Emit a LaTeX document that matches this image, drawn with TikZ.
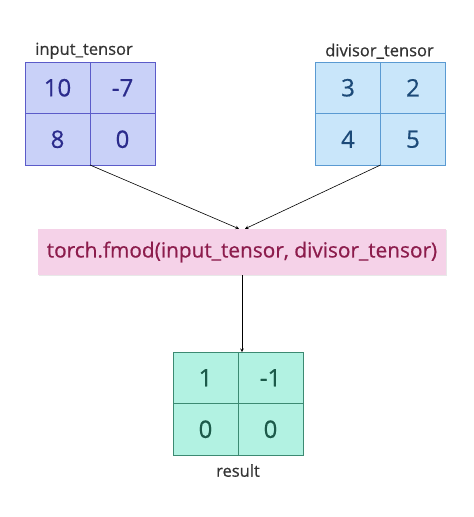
\documentclass[tikz,border=0pt]{standalone}
\usepackage{fontspec}
\setmainfont{Open Sans}[FakeBold=0.6]
\newfontfamily\medfont{Open Sans}[FakeBold=0.6]
\usetikzlibrary{positioning, arrows, shadows}
\definecolor{inFill}{HTML}{C9D1F8}
\definecolor{inLine}{HTML}{5B5BC9}
\definecolor{inText}{HTML}{2B2B8C}
\definecolor{dvFill}{HTML}{C9E6FA}
\definecolor{dvLine}{HTML}{5A9AD2}
\definecolor{dvText}{HTML}{1C4A78}
\definecolor{rsFill}{HTML}{B2F2E2}
\definecolor{rsLine}{HTML}{3C8A72}
\definecolor{rsText}{HTML}{1C5A4A}
\definecolor{fnFill}{HTML}{F5D2E8}
\definecolor{fnText}{HTML}{8C1C4C}
\tikzstyle{cell} = [rectangle, minimum width=65pt, minimum height=51.5pt, outer sep=0pt, inner sep=0pt, line width=0.9pt, font=\medfont\fontsize{24}{28}\selectfont]
\tikzstyle{incell} = [cell, draw=inLine, fill=inFill, text=inText]
\tikzstyle{dvcell} = [cell, draw=dvLine, fill=dvFill, text=dvText]
\tikzstyle{rscell} = [cell, draw=rsLine, fill=rsFill, text=rsText]
\tikzstyle{label} = [text=black!80, font=\fontsize{16.5}{19}\selectfont, inner sep=2pt]
\tikzstyle{func} = [rectangle, minimum width=408pt, minimum height=46pt, fill=fnFill, text=fnText, font=\medfont\fontsize{20.8}{24}\selectfont, drop shadow={opacity=0.18, shadow xshift=1.2pt, shadow yshift=-1.2pt}]
\tikzstyle{arrow} = [semithick, black, ->, >=stealth]
\begin{document}
\begin{tikzpicture}[x=1pt, y=-1pt]
            \useasboundingbox (0,0) rectangle (474,517);
            \node(in11)[incell] at (57.5,87.75){10};
            \node(in12)[incell,right=0pt of in11]{-7};
            \node(in21)[incell,below=0pt of in11]{8};
            \node(in22)[incell,right=0pt of in21]{0};
            \node(inlab)[label,above=1pt of in11.north east,xshift=-6pt]{input\_tensor};
            \node(dv11)[dvcell] at (348,87.75){3};
            \node(dv12)[dvcell,right=0pt of dv11]{2};
            \node(dv21)[dvcell,below=0pt of dv11]{4};
            \node(dv22)[dvcell,right=0pt of dv21]{5};
            \node(dvlab)[label,above=1pt of dv11.north east,xshift=-1pt]{divisor\_tensor};
            \node(fmod)[func] at (242,252){torch.fmod(input\_tensor, divisor\_tensor)};
            \node(rs11)[rscell] at (205.5,377.75){1};
            \node(rs12)[rscell,right=0pt of rs11]{-1};
            \node(rs21)[rscell,below=0pt of rs11]{0};
            \node(rs22)[rscell,right=0pt of rs21]{0};
            \node(rslab)[label,below=7pt of rs21.south east]{result};
            \draw[arrow](in21.south east)--([xshift=-3pt]fmod.north);
            \draw[arrow](dv21.south east)--([xshift=3pt]fmod.north);
            \draw[arrow](fmod.south)--(fmod.south |- rs11.north);
        \end{tikzpicture}
\end{document}
